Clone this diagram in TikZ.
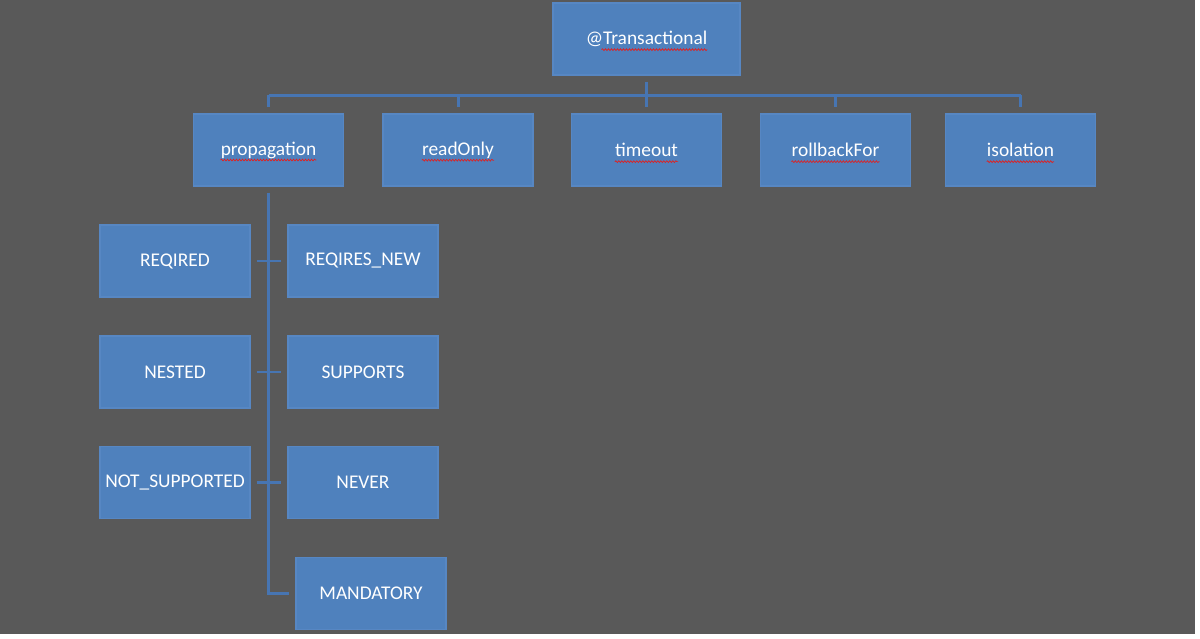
\documentclass[tikz,border=0pt]{standalone}
\usepackage{fontspec}
\setmainfont{Carlito}
\usetikzlibrary{decorations.pathmorphing}
\definecolor{bg}{HTML}{595959}
\definecolor{boxfill}{HTML}{4F81BD}
\definecolor{boxedge}{HTML}{5787C3}
\definecolor{conncol}{HTML}{4775B2}
\definecolor{squigcol}{HTML}{E02020}
\tikzset{
  box/.style={draw=boxedge, fill=boxfill, line width=1.2pt, minimum width=150pt, minimum height=72pt, inner sep=0pt, text=white, font=\fontsize{19.4}{23}\selectfont},
  lbl/.style={inner sep=0pt, text=white, font=\fontsize{19.4}{23}\selectfont},
  conn/.style={draw=conncol, line width=3pt},
  tick/.style={draw=conncol, line width=2.6pt, shorten <=6pt, shorten >=6pt},
  squig/.style={draw=squigcol, line width=0.7pt, decorate, decoration={snake, amplitude=0.9pt, segment length=3pt}}
}
\begin{document}
\begin{tikzpicture}[x=1pt, y=-1pt]
\useasboundingbox (0,0) rectangle (1200,638);
\fill[white] (0,0) rectangle (1200,638);
\fill[bg] (0,0) rectangle (1195,634);

% top node
\node[box, minimum width=187pt] (trans) at (646.5,39) {};
\node[lbl] (transT) at (trans) {@Transactional};

% second level
\node[box] (prop) at (268.5,150) {};
\node[box] (ro)   at (458,150) {};
\node[box] (to)   at (646.5,150) {};
\node[box] (rb)   at (835.5,150) {};
\node[box] (iso)  at (1020.5,150) {};
\node[lbl] (propT) at (prop) {propagation};
\node[lbl] (roT)   at (ro) {readOnly};
\node[lbl] (toT)   at (to) {timeout};
\node[lbl] (rbT)   at (rb) {rollbackFor};
\node[lbl] (isoT)  at (iso) {isolation};

% spell-check underlines
\foreach \n in {propT,roT,toT,rbT,isoT}{
  \draw[squig] ([yshift=-5pt]\n.base west) -- ([yshift=-5pt]\n.base east);
}
\path (transT.base west) ++(16,5) coordinate (tsq);
\draw[squig] (tsq) -- ([yshift=-5pt]transT.base east);

% third level
\node[box] (req)    at (175,261) {REQIRED};
\node[box] (reqnew) at (363,261) {REQIRES\_NEW};
\node[box] (nest)   at (175,372) {NESTED};
\node[box] (supp)   at (363,372) {SUPPORTS};
\node[box] (notsup) at (175,482.5) {NOT\_SUPPORTED};
\node[box] (never)  at (363,482.5) {NEVER};
\node[box] (mand)   at (371,593.5) {MANDATORY};

% top bus
\coordinate (bus) at (646.5,95);
\draw[conn, shorten <=6pt] (trans.south) -- (trans.south |- bus);
\draw[conn] (prop.north |- bus) -- (iso.north |- bus);
\foreach \n in {prop,ro,to,rb,iso}{
  \draw[conn, shorten >=6pt] (\n.north |- bus) -- (\n.north);
}

% spine
\draw[conn, shorten <=6pt, shorten >=6pt] (prop.south) |- (mand.west);

% ticks
\draw[tick] (req) -- (reqnew);
\draw[tick] (nest) -- (supp);
\draw[tick] (notsup) -- (never);
\end{tikzpicture}
\end{document}
